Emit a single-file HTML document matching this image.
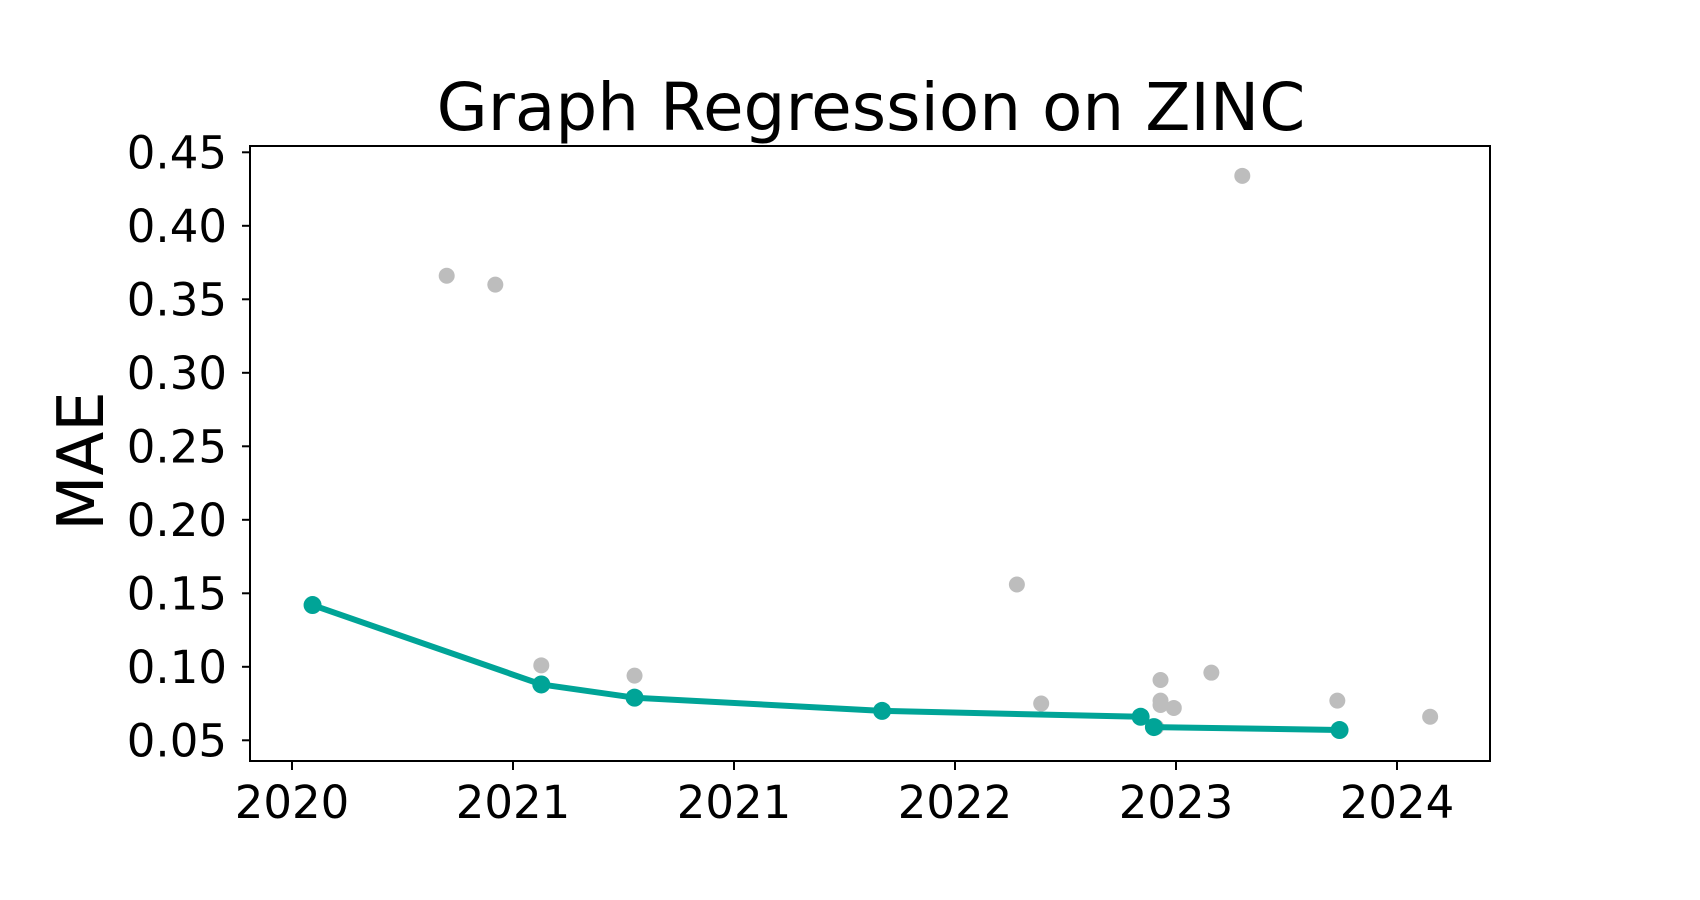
<!DOCTYPE html>
<html><head><meta charset="utf-8"><style>
html,body{margin:0;padding:0;background:#fff;}
svg{display:block;font-family:"DejaVu Sans","Liberation Sans",sans-serif;}
</style></head><body>
<svg id="chart" width="1700" height="900" viewBox="0 0 1700 900">
<rect width="1700" height="900" fill="#fff"/>
<text x="871" y="130" font-size="66" text-anchor="middle">Graph Regression on ZINC</text>
<text transform="translate(103,461) rotate(-90)" font-size="64" text-anchor="middle">MAE</text>
<g id="gray"></g><g id="line"></g><g id="axes"></g>
</svg>
<script>
const xTickLabels = ["2020","2021","2021","2022","2023","2024"];
const yTicks = [0.05,0.10,0.15,0.20,0.25,0.30,0.35,0.40,0.45];
const otherX = [0.70,0.92,1.128,1.55,3.28,3.39,3.93,3.93,3.93,3.99,4.16,4.30,4.73,5.15,3.91];
const otherY = [0.366,0.360,0.101,0.094,0.156,0.075,0.091,0.077,0.074,0.072,0.096,0.434,0.077,0.066,0.059];
const sotaX = [0.093,1.128,1.55,2.67,3.84,3.90,4.74];
const sotaY = [0.142,0.088,0.079,0.070,0.066,0.059,0.057];

const L=250,R=1490,T=146,B=761;
const xs = i => 292 + i*221;
const ys = v => 152.3 + (0.45 - v)/0.05*73.5;
const NS="http://www.w3.org/2000/svg";
function mk(tag, attrs, parent){const e=document.createElementNS(NS,tag);for(const k in attrs)e.setAttribute(k,attrs[k]);parent.appendChild(e);return e;}

const gray=document.getElementById('gray');
otherX.forEach((x,i)=>{
  const c=mk('circle',{cx:xs(x),cy:ys(otherY[i]),r:8,fill:'#bdbdbd'},gray);
  
  
});
const lg=document.getElementById('line');
const p=mk('polyline',{points:sotaX.map((x,i)=>xs(x)+','+ys(sotaY[i])).join(' '),fill:'none',stroke:'#00a497','stroke-width':6,'stroke-linejoin':'round'},lg);


sotaX.forEach((x,i)=>{
  const c=mk('circle',{cx:xs(x),cy:ys(sotaY[i]),r:9,fill:'#00a497'},lg);
  
  
});
const ax=document.getElementById('axes');
const fr=mk('rect',{x:L,y:T,width:R-L,height:B-T,fill:'none',stroke:'#000','stroke-width':2},ax);


yTicks.forEach(v=>{
  const y=ys(v);
  const t=mk('line',{x1:L-8,x2:L,y1:y,y2:y,stroke:'#000','stroke-width':2},ax);
  
  
  const tx=mk('text',{x:227,y:y+16,'font-size':45,'text-anchor':'end'},ax);
  tx.textContent=v.toFixed(2);
  
  
});
xTickLabels.forEach((lab,i)=>{
  const x=xs(i);
  const t=mk('line',{x1:x,x2:x,y1:B,y2:B+9,stroke:'#000','stroke-width':2},ax);
  
  
  const tx=mk('text',{x:x,y:818,'font-size':45,'text-anchor':'middle'},ax);
  tx.textContent=lab;
  
  
});
</script>
</body></html>
